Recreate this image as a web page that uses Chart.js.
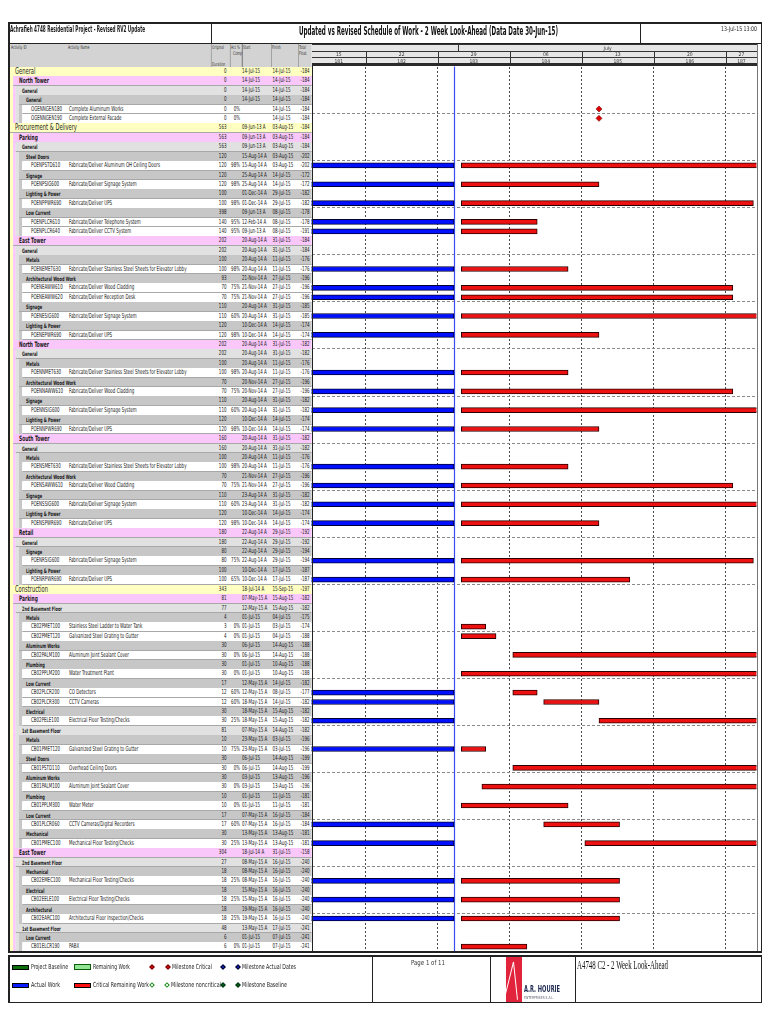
<!DOCTYPE html>
<html lang="en">
<head>
<meta charset="UTF-8">
<title>Updated vs Revised Schedule of Work - 2 Week Look-Ahead</title>
<style>
  * {box-sizing:border-box;margin:0;padding:0;}
  body {width:768px;height:1024px;background:#fff;position:relative;overflow:hidden;color:#1a1a1a;
        font-family:'Liberation Sans Narrow','DejaVu Sans Condensed','Arial Narrow',sans-serif;}
  .a {position:absolute;}
  .t {position:absolute;white-space:nowrap;}
  #tbl {position:absolute;left:0;top:0;height:1024px;overflow:hidden;transform-origin:0 0;}
  #gantt {position:absolute;left:312px;top:67px;}
  #deco {position:absolute;left:0;top:0;width:768px;height:1024px;}
</style>
</head>
<body>
<div id="tbl"></div>
<canvas id="gantt" width="445" height="885"></canvas>
<div id="deco"></div>
<script src="https://cdn.jsdelivr.net/npm/chart.js@4.4.1/dist/chart.umd.min.js"></script>
<script>
// ---- schedule rows (1 = project, 2 = area, 3 = floor/group, 4 = trade, 5 = activity) ----
const levels = [1,2,3,4,5,5,
  1,2,3,4,5,4,5,4,5,4,5,5,
  2,3,4,5,4,5,5,4,5,4,5,
  2,3,4,5,4,5,4,5,4,5,
  2,3,4,5,4,5,4,5,4,5,
  2,3,4,5,4,5,
  1,2,3,4,5,5,4,5,4,5,4,5,5,4,5,
  3,4,5,4,5,4,5,4,5,4,5,4,5,
  2,3,4,5,4,5,4,5,3,4,5];
const ids = ['','','','','OGENNGEN180','OGENNGEN190',
  '','','','','POENPSTD610','','POENPSIG600','','POENPPWR690','','POENPLCR610','POENPLCR640',
  '','','','POENEMET630','','POENEAWW610','POENEAWW620','','POENESIG600','','POENEPWR690',
  '','','','POENNMET630','','POENNAWW610','','POENNSIG600','','POENNPWR690',
  '','','','POENSMET630','','POENSAWW610','','POENSSIG600','','POENSPWR690',
  '','','','POENRSIG600','','POENRPWR690',
  '','','','','CB02PMET100','CB02PMET120','','CB02PALM100','','CB02PPLM200','','CB02PLCR200','CB02PLCR300','','CB02PELE100',
  '','','CB01PMET120','','CB01PSTD110','','CB01PALM100','','CB01PPLM300','','CB01PLCR060','','CB01PMEC100',
  '','','','CB02EMEC100','','CB02EELE100','','CB02EARC100','','','CB01ELCR190'];
const names = ['General','North Tower','General','General','Complete Aluminum Works','Complete External Facade',
  'Procurement & Delivery','Parking','General','Steel Doors','Fabricate/Deliver Aluminum OH Ceiling Doors',
  'Signage','Fabricate/Deliver Signage System','Lighting & Power','Fabricate/Deliver UPS',
  'Low Current','Fabricate/Deliver Telephone System','Fabricate/Deliver CCTV System',
  'East Tower','General','Metals','Fabricate/Deliver Stainless Steel Sheets for Elevator Lobby',
  'Architectural Wood Work','Fabricate/Deliver Wood Cladding','Fabricate/Deliver Reception Desk',
  'Signage','Fabricate/Deliver Signage System','Lighting & Power','Fabricate/Deliver UPS',
  'North Tower','General','Metals','Fabricate/Deliver Stainless Steel Sheets for Elevator Lobby',
  'Architectural Wood Work','Fabricate/Deliver Wood Cladding','Signage','Fabricate/Deliver Signage System',
  'Lighting & Power','Fabricate/Deliver UPS',
  'South Tower','General','Metals','Fabricate/Deliver Stainless Steel Sheets for Elevator Lobby',
  'Architectural Wood Work','Fabricate/Deliver Wood Cladding','Signage','Fabricate/Deliver Signage System',
  'Lighting & Power','Fabricate/Deliver UPS',
  'Retail','General','Signage','Fabricate/Deliver Signage System','Lighting & Power','Fabricate/Deliver UPS',
  'Construction','Parking','2nd Basement Floor','Metals','Stainless Steel Ladder to Water Tank',
  'Galvanized Steel Grating to Gutter','Aluminum Works','Aluminum Joint Sealant Cover','Plumbing',
  'Water Treatment Plant','Low Current','CO Detectors','CCTV Cameras','Electrical','Electrical Floor Testing/Checks',
  '1st Basement Floor','Metals','Galvanized Steel Grating to Gutter','Steel Doors','Overhead Ceiling Doors',
  'Aluminum Works','Aluminum Joint Sealant Cover','Plumbing','Water Meter','Low Current',
  'CCTV Cameras/Digital Recorders','Mechanical','Mechanical Floor Testing/Checks',
  'East Tower','2nd Basement Floor','Mechanical','Mechanical Floor Testing/Checks','Electrical',
  'Electrical Floor Testing/Checks','Architectural','Architectural Floor Inspection/Checks',
  '1st Basement Floor','Low Current','PABX'];
const durations = [0,0,0,0,0,0,
  563,563,563,120,120,120,120,100,100,398,140,140,
  202,202,100,100,93,70,70,110,110,120,120,
  202,202,100,100,70,70,110,110,120,120,
  160,160,100,100,70,70,110,110,120,120,
  180,180,80,80,100,100,
  343,81,77,4,3,4,30,30,30,30,17,12,12,30,30,
  81,10,10,30,30,30,30,10,10,17,17,30,30,
  304,27,18,18,18,18,18,18,48,6,6];
const pcts = [null,null,null,null,0,0,
  null,null,null,null,98,null,98,null,98,null,95,95,
  null,null,null,98,null,75,75,null,60,null,98,
  null,null,null,98,null,75,null,60,null,98,
  null,null,null,98,null,75,null,60,null,98,
  null,null,null,75,null,65,
  null,null,null,null,0,0,null,0,null,0,null,60,60,null,25,
  null,null,75,null,0,null,0,null,0,null,60,null,25,
  null,null,null,25,null,25,null,25,null,null,0];
const starts = ['14-Jul-15','14-Jul-15','14-Jul-15','14-Jul-15','','',
  '09-Jun-13 A','09-Jun-13 A','09-Jun-13 A','15-Aug-14 A','15-Aug-14 A','25-Aug-14 A','25-Aug-14 A',
  '01-Dec-14 A','01-Dec-14 A','09-Jun-13 A','12-Feb-14 A','09-Jun-13 A',
  '20-Aug-14 A','20-Aug-14 A','20-Aug-14 A','20-Aug-14 A','21-Nov-14 A','21-Nov-14 A','21-Nov-14 A',
  '20-Aug-14 A','20-Aug-14 A','10-Dec-14 A','10-Dec-14 A',
  '20-Aug-14 A','20-Aug-14 A','20-Aug-14 A','20-Aug-14 A','20-Nov-14 A','20-Nov-14 A',
  '20-Aug-14 A','20-Aug-14 A','10-Dec-14 A','10-Dec-14 A',
  '20-Aug-14 A','20-Aug-14 A','20-Aug-14 A','20-Aug-14 A','21-Nov-14 A','21-Nov-14 A',
  '23-Aug-14 A','23-Aug-14 A','10-Dec-14 A','10-Dec-14 A',
  '22-Aug-14 A','22-Aug-14 A','22-Aug-14 A','22-Aug-14 A','10-Dec-14 A','10-Dec-14 A',
  '18-Jul-14 A','07-May-15 A','12-May-15 A','01-Jul-15','01-Jul-15','01-Jul-15','06-Jul-15','06-Jul-15',
  '01-Jul-15','01-Jul-15','12-May-15 A','12-May-15 A','18-May-15 A','18-May-15 A','18-May-15 A',
  '07-May-15 A','23-May-15 A','23-May-15 A','06-Jul-15','06-Jul-15','03-Jul-15','03-Jul-15',
  '01-Jul-15','01-Jul-15','07-May-15 A','07-May-15 A','13-May-15 A','13-May-15 A',
  '18-Jul-14 A','08-May-15 A','08-May-15 A','08-May-15 A','15-May-15 A','15-May-15 A',
  '19-May-15 A','19-May-15 A','13-May-15 A','01-Jul-15','01-Jul-15'];
const finishes = ['14-Jul-15','14-Jul-15','14-Jul-15','14-Jul-15','14-Jul-15','14-Jul-15',
  '03-Aug-15','03-Aug-15','03-Aug-15','03-Aug-15','03-Aug-15','14-Jul-15','14-Jul-15',
  '29-Jul-15','29-Jul-15','08-Jul-15','08-Jul-15','08-Jul-15',
  '31-Jul-15','31-Jul-15','11-Jul-15','11-Jul-15','27-Jul-15','27-Jul-15','27-Jul-15',
  '31-Jul-15','31-Jul-15','14-Jul-15','14-Jul-15',
  '31-Jul-15','31-Jul-15','11-Jul-15','11-Jul-15','27-Jul-15','27-Jul-15','31-Jul-15','31-Jul-15','14-Jul-15','14-Jul-15',
  '31-Jul-15','31-Jul-15','11-Jul-15','11-Jul-15','27-Jul-15','27-Jul-15','31-Jul-15','31-Jul-15','14-Jul-15','14-Jul-15',
  '29-Jul-15','29-Jul-15','29-Jul-15','29-Jul-15','17-Jul-15','17-Jul-15',
  '15-Sep-15','15-Aug-15','15-Aug-15','04-Jul-15','03-Jul-15','04-Jul-15','14-Aug-15','14-Aug-15',
  '10-Aug-15','10-Aug-15','14-Jul-15','08-Jul-15','14-Jul-15','15-Aug-15','15-Aug-15',
  '14-Aug-15','03-Jul-15','03-Jul-15','14-Aug-15','14-Aug-15','13-Aug-15','13-Aug-15',
  '11-Jul-15','11-Jul-15','16-Jul-15','16-Jul-15','13-Aug-15','13-Aug-15',
  '31-Jul-15','16-Jul-15','16-Jul-15','16-Jul-15','16-Jul-15','16-Jul-15','16-Jul-15','16-Jul-15',
  '17-Jul-15','07-Jul-15','07-Jul-15'];
const floats = [-184,-184,-184,-184,-184,-184,
  -184,-184,-184,-202,-202,-172,-172,-182,-182,-178,-178,-191,
  -184,-184,-176,-176,-196,-196,-196,-185,-185,-174,-174,
  -182,-182,-176,-176,-196,-196,-182,-182,-174,-174,
  -182,-182,-176,-176,-196,-196,-182,-182,-174,-174,
  -192,-192,-194,-194,-187,-187,
  -197,-182,-182,-175,-174,-188,-188,-188,-188,-188,-182,-177,-182,-182,-182,
  -182,-196,-196,-199,-199,-196,-196,-181,-181,-184,-184,-181,-181,
  -158,-240,-240,-240,-240,-240,-240,-240,-241,-241,-241];
// start of the remaining (critical) work bar, activities only
const remainStart = [null,null,null,null,null,null,
  null,null,null,null,'01-Jul-15',null,'01-Jul-15',null,'01-Jul-15',null,'01-Jul-15','01-Jul-15',
  null,null,null,'01-Jul-15',null,'01-Jul-15','01-Jul-15',null,'01-Jul-15',null,'01-Jul-15',
  null,null,null,'01-Jul-15',null,'01-Jul-15',null,'01-Jul-15',null,'01-Jul-15',
  null,null,null,'01-Jul-15',null,'01-Jul-15',null,'01-Jul-15',null,'01-Jul-15',
  null,null,null,'01-Jul-15',null,'01-Jul-15',
  null,null,null,null,'01-Jul-15','01-Jul-15',null,'06-Jul-15',null,'01-Jul-15',null,'06-Jul-15','09-Jul-15',null,'14-Jul-15 17:00',
  null,null,'01-Jul-15',null,'06-Jul-15',null,'03-Jul-15',null,'01-Jul-15',null,'09-Jul-15',null,'13-Jul-15',
  null,null,null,'01-Jul-15',null,'01-Jul-15',null,'01-Jul-15',null,null,'01-Jul-15'];

// ---- time scale ----
const dataDate = '30-Jun-15 15:00';
const viewFrom = '16-Jun-15 19:00';
const viewTo = '30-Jul-15 00:00';
const weekStarts = ['15-Jun-15','22-Jun-15','29-Jun-15','06-Jul-15','13-Jul-15','20-Jul-15','27-Jul-15','03-Aug-15'];
const weekLabels = ['15','22','29','06','13','20','27'];
const weekNums = ['181','182','183','184','185','186','187'];
const monthStarts = ['01-Jun-15','01-Jul-15','01-Aug-15'];
const monthLabels = ['','July'];

const MON = {Jan:0,Feb:1,Mar:2,Apr:3,May:4,Jun:5,Jul:6,Aug:7,Sep:8,Oct:9,Nov:10,Dec:11};
function dayOf(s, hour){
  const m = s.match(/(\d+)-(\w+)-(\d+)(?:\s+(\d+):(\d+))?/);
  const t = Date.UTC(2000 + +m[3], MON[m[2]], +m[1]);
  const h = m[4] ? (+m[4] + m[5]/60) : hour;
  return (t - Date.UTC(2015,5,1))/864e5 + h/24;
}

const N = levels.length;
const dd = dayOf(dataDate, 0);
const actualBars = levels.map((lv,i) => remainStart[i] && starts[i].endsWith(' A') ? [dayOf(starts[i],8), dd] : null);
const remainBars = levels.map((lv,i) => remainStart[i] ? [dayOf(remainStart[i],8), dayOf(finishes[i],17)] : null);
const milestones = levels.map((lv,i) => lv===5 && durations[i]===0 ? dayOf(finishes[i],17) : null);

const dataDateLine = {
  id:'dataDateLine',
  beforeDatasetsDraw(chart){
    const {ctx, chartArea:a, scales:{x}} = chart;
    const px = Math.round(x.getPixelForValue(dd)) + 0.5;
    ctx.save();
    ctx.strokeStyle = '#3b4cf0'; ctx.lineWidth = 1.2;
    ctx.beginPath(); ctx.moveTo(px, a.top); ctx.lineTo(px, a.bottom); ctx.stroke();
    ctx.restore();
  }
};

// wanted plot area on the page
const areaL = 312, areaT = 67, areaW = 445, areaH = 885;
const cv = document.getElementById('gantt');

function makeChart(){
  return new Chart(cv, {
    type:'bar',
    data:{
      labels:names,
      datasets:[
        {label:'Milestone Critical', type:'line', data:milestones, showLine:false, pointStyle:'rectRot',
         pointRadius:3, pointBackgroundColor:'#e00000', pointBorderColor:'#700000', pointBorderWidth:0.6, order:0},
        {label:'Actual Work', data:actualBars, backgroundColor:'#0010ff', borderColor:'#000033', borderWidth:1,
         borderSkipped:false, barThickness:5, grouped:false, order:1},
        {label:'Critical Remaining Work', data:remainBars, backgroundColor:'#ee1111', borderColor:'#2a0000', borderWidth:1,
         borderSkipped:false, barThickness:5, grouped:false, order:1}
      ]
    },
    options:{
      indexAxis:'y', responsive:false, maintainAspectRatio:false, animation:false, events:[],
      layout:{padding:0},
      plugins:{legend:{display:false}, tooltip:{enabled:false}},
      scales:{
        x:{type:'linear', position:'top', min:dayOf(viewFrom), max:dayOf(viewTo),
           afterBuildTicks:s => { s.ticks = weekStarts.map(w => ({value:dayOf(w,0)})).filter(t => t.value > s.min && t.value < s.max); },
           ticks:{display:false}, grid:{color:'#1a1a1a', lineWidth:0.8, drawTicks:false},
           border:{display:false, dash:[2,2]}},
        y:{type:'category', offset:true, ticks:{display:false},
           grid:{offset:true, drawTicks:false, lineWidth:1,
                 color:c => (c.index > 0 && c.index < N && c.index % 5 === 0) ? '#8a8a8a' : 'rgba(0,0,0,0)'},
           border:{display:false, dash:[3,2]}}
      }
    },
    plugins:[dataDateLine]
  });
}

// first pass measures how much room the hidden axes take, second pass fits the plot area exactly
let chart = makeChart();
let ca = chart.chartArea;
const padL = ca.left, padT = ca.top;
const padR = cv.width - ca.right, padB = cv.height - ca.bottom;
chart.destroy();
cv.width = areaW + padL + padR; cv.height = areaH + padT + padB;
cv.style.left = (areaL - padL) + 'px'; cv.style.top = (areaT - padT) + 'px';
chart = makeChart();
const canvasLeft = areaL - padL, canvasTop = areaT - padT;

// ---- drawing helpers ----
function box(parent, x, y, w, h, bg, extra){
  const d = document.createElement('div'); d.className = 'a';
  d.style.cssText = `left:${x}px;top:${y}px;width:${w}px;height:${h}px;background:${bg};` + (extra || '');
  parent.appendChild(d); return d;
}
function text(parent, x, y, str, css){
  const d = document.createElement('div'); d.className = 't';
  d.style.cssText = `left:${x}px;top:${y}px;` + (css || '');
  d.textContent = str; parent.appendChild(d); return d;
}
function fitW(d, w){
  const nw = d.getBoundingClientRect().width;
  d.style.transformOrigin = '0 0'; d.style.transform = `scaleX(${w/nw})`;
}

// horizontal squeeze of the activity table (narrow printed font)
const S = (() => {
  const sp = text(document.body, 0, -50, 'Fabricate/Deliver Aluminum OH Ceiling Doors', 'font-size:6.8px;');
  const w = sp.getBoundingClientRect().width; sp.remove(); return 91 / w;
})();
const L = v => v / S;
const tbl = document.getElementById('tbl');
tbl.style.width = L(312) + 'px';
tbl.style.transform = `scaleX(${S})`;

const ys = chart.scales.y, xs = chart.scales.x;
const rowH = (chart.chartArea.bottom - chart.chartArea.top) / N;

// column header
box(tbl, L(9), 43.5, L(303), 23.5, '#d3d3d3');
[211, 230, 242, 271, 298].forEach(x => box(tbl, L(x), 43.5, L(0.8), 23.5, '#8a8a8a'));
const hcss = 'font-size:5.2px;line-height:6px;color:#333;';
text(tbl, L(11), 44, 'Activity ID', hcss);
text(tbl, L(68), 44, 'Activity Name', hcss);
text(tbl, L(212), 44, 'Original', hcss);
text(tbl, L(212), 61, 'Duration', hcss);
text(tbl, L(231), 44, 'Act %', hcss);
text(tbl, L(233), 50, 'Comp', hcss);
text(tbl, L(243), 44, 'Start', hcss);
text(tbl, L(272), 44, 'Finish', hcss);
text(tbl, L(299), 44, 'Total', hcss);
text(tbl, L(299), 50, 'Float', hcss);

// rows
const levelLeft = [10, 13, 16, 19, 22];
const levelColor = ['#ffffc2', '#f9c7f9', '#e1e1e1', '#c7c7c7', '#ffffff'];
const levelFont = ['font-size:8.8px;color:#262626;', 'font-size:7.4px;font-weight:bold;',
                   'font-size:6px;font-weight:bold;', 'font-size:6px;font-weight:bold;', 'font-size:6.8px;'];
const levelTextX = [15, 19, 22, 26, 31];
for (let i = 0; i < N; i++){
  const top = canvasTop + ys.getPixelForValue(i) - rowH/2;
  const lv = levels[i];
  for (let k = 1; k <= lv; k++){
    const x0 = levelLeft[k-1], x1 = k < lv ? levelLeft[k] : 312;
    box(tbl, L(x0), top, L(x1 - x0), rowH + 0.3, levelColor[k-1]);
  }
  box(tbl, L(levelLeft[lv-1]), top + rowH - 0.6, L(312 - levelLeft[lv-1]), 0.6, '#a8a8a8');
  const lh = `height:${rowH}px;line-height:${rowH}px;`;
  if (lv === 5){
    text(tbl, L(31), top, ids[i], lh + levelFont[4]);
    text(tbl, L(69), top, names[i], lh + levelFont[4]);
  } else {
    text(tbl, L(levelTextX[lv-1]), top, names[i], lh + levelFont[lv-1]);
  }
  const ncss = lh + 'font-size:6.8px;';
  text(tbl, L(196), top, String(durations[i]), ncss + `width:${L(30.5)}px;text-align:right;`);
  if (pcts[i] !== null) text(tbl, L(225), top, pcts[i] + '%', ncss + `width:${L(15)}px;text-align:right;`);
  if (starts[i]) text(tbl, L(242), top, starts[i], ncss);
  text(tbl, L(272.5), top, finishes[i], ncss);
  text(tbl, L(300.5), top, String(floats[i]), ncss);
}

// frame, title row, time header
const deco = document.getElementById('deco');
const dk = '#222';
box(deco, 8, 22, 754, 1.5, dk);
box(deco, 8, 22, 1.5, 931, dk);
box(deco, 760.5, 22, 1.5, 931, dk);
box(deco, 8, 951, 754, 2, dk);
box(deco, 8, 43, 754, 1, dk);
box(deco, 211, 22, 1, 21, dk);
box(deco, 640, 22, 1, 21, dk);
box(deco, 311.5, 43, 1.2, 909, dk);
box(deco, 756.5, 44, 1, 907, '#777');

const tl = text(deco, 10, 25, 'Achrafieh 4748 Residential Project - Revised RV2 Update', 'font-size:8px;font-weight:bold;line-height:9px;');
fitW(tl, 135);
const tt = text(deco, 299, 24, 'Updated vs Revised Schedule of Work - 2 Week Look-Ahead (Data Date  30-Jun-15)', 'font-size:12.5px;font-weight:bold;line-height:13px;color:#111;');
fitW(tt, 259);
const td = text(deco, 721, 26, '13-Jul-15 13:00', 'font-size:6.5px;line-height:7px;');
fitW(td, 36);

// time scale header bands
const hx0 = areaL, hx1 = areaL + areaW;
box(deco, hx0, 44, hx1 - hx0, 19, '#e6e6e6');
[44, 50.5, 57].forEach(y => box(deco, hx0, y, hx1 - hx0, 1, '#333'));
box(deco, hx0, 63, hx1 - hx0, 3, '#2a2a2a');
const px = v => canvasLeft + xs.getPixelForValue(v);
const clamp = v => Math.max(hx0, Math.min(hx1, v));
const tcss = 'font-size:5px;line-height:6px;color:#333;text-align:center;';
for (let m = 0; m < monthLabels.length; m++){
  const a = clamp(px(dayOf(monthStarts[m],0))), b = clamp(px(dayOf(monthStarts[m+1],0)));
  if (m > 0) box(deco, a, 44, 1, 6.5, '#333');
  if (monthLabels[m]) text(deco, a, 44.5, monthLabels[m], tcss + `width:${b-a}px;`);
}
for (let w = 0; w < weekLabels.length; w++){
  const a = clamp(px(dayOf(weekStarts[w],0))), b = clamp(px(dayOf(weekStarts[w+1],0)));
  if (w > 0) box(deco, a, 50.5, 1, 12.5, '#333');
  text(deco, a, 51.2, weekLabels[w], tcss + `width:${b-a}px;`);
  text(deco, a, 57.6, weekNums[w], tcss + `width:${b-a}px;`);
}

// footer / legend
box(deco, 8, 955, 754, 1.5, dk);
box(deco, 8, 1001.5, 754, 1.5, dk);
box(deco, 8, 955, 1.5, 48, dk);
box(deco, 760.5, 955, 1.5, 48, dk);
[372, 490, 575].forEach(x => box(deco, x, 955, 1, 48, dk));

function swatch(x, cy, fill, border, h){
  box(deco, x, cy - h/2, 17, h, fill, `border:1px solid ${border};`);
}
function diamond(cx, cy, fill, border){
  box(deco, cx - 2, cy - 2, 4, 4, fill, `transform:rotate(45deg);border:0.8px solid ${border};`);
}
const lcss = 'font-size:7px;line-height:8px;color:#222;';
function label(x, cy, str, w){ fitW(text(deco, x, cy - 4, str, lcss), w); }
swatch(12, 967, '#0b6e0b', '#000', 5); label(31, 967, 'Project Baseline', 37);
swatch(74, 967, '#92e592', '#0a5a0a', 6); label(93, 967, 'Remaining Work', 37);
diamond(152, 967, '#d01010', '#700'); diamond(168, 967, '#d01010', '#700'); label(172, 967, 'Milestone Critical', 40);
diamond(223, 967, '#1020c0', '#001'); diamond(238, 967, '#1020c0', '#001'); label(242, 967, 'Milestone Actual Dates', 54);
swatch(12, 985, '#0a1cff', '#000', 5); label(31, 985, 'Actual Work', 29);
swatch(74, 985, '#ff1010', '#000', 5); label(93, 985, 'Critical Remaining Work', 56);
diamond(152, 985, '#ffffff', '#1a8a1a'); diamond(167, 985, '#ffffff', '#1a8a1a'); label(171, 985, 'Milestone noncritical', 50);
diamond(223, 985, '#0b5e0b', '#032'); diamond(238, 985, '#0b5e0b', '#032'); label(242, 985, 'Milestone Baseline', 45);

fitW(text(deco, 411, 959, 'Page 1 of 11', 'font-size:7px;line-height:8px;color:#333;'), 34);
box(deco, 506, 957, 16, 44.5, '#e2233c');
box(deco, 513, 962, 1.2, 38, '#ffffff', 'transform:rotate(14deg);transform-origin:50% 0;');
box(deco, 513, 962, 1.2, 38, '#ffffff', 'transform:rotate(-6deg);transform-origin:50% 0;');
fitW(text(deco, 524, 984, 'A.R. HOURIE', 'font-size:9px;font-weight:bold;line-height:10px;color:#1c2750;'), 36);
fitW(text(deco, 524, 995, 'ENTERPRISES S.A.L.', 'font-size:4px;line-height:5px;color:#667;'), 30);
fitW(text(deco, 577, 959, 'A4748 C2 - 2 Week Look-Ahead', "font-family:'Liberation Serif','DejaVu Serif',serif;font-size:12px;line-height:13px;color:#111;"), 91);
</script>
</body>
</html>
